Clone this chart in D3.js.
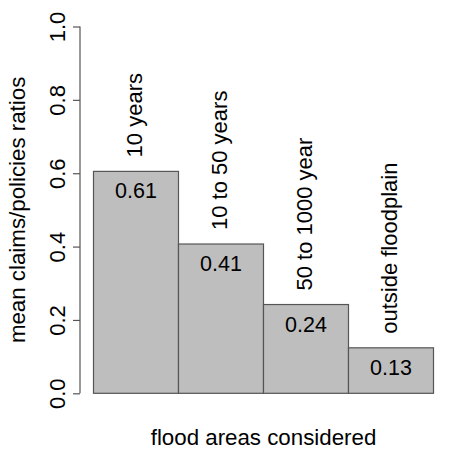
<!DOCTYPE html>
<html>
<head>
<meta charset="utf-8">
<script src="https://cdn.jsdelivr.net/npm/d3@7"></script>
<style>
  body { margin: 0; background: white; }
  svg { display: block; font-family: "Liberation Sans", Arial, sans-serif; }
</style>
</head>
<body>
<svg id="chart" width="474" height="474"></svg>
<script>
// data
var categories = ["10 years", "10 to 50 years", "50 to 1000 year", "outside floodplain"]
var ratios = [0.605, 0.407, 0.242, 0.124]
var ratioLabels = ["0.61", "0.41", "0.24", "0.13"]
var yTicks = [0, 0.2, 0.4, 0.6, 0.8, 1.0]

var svg = d3.select("#chart")

var x = d3.scaleBand()
  .domain(categories)
  .range([93.5, 433.5])
  .padding(0)

var y = d3.scaleLinear()
  .domain([0, 1])
  .range([393.3, 26.5])

// bars
svg.selectAll(".bar")
  .data(ratios)
  .enter().append("rect")
  .attr("class", "bar")
  .attr("x", function(d, i) { return x(categories[i]) })
  .attr("y", function(d) { return y(d) })
  .attr("width", x.bandwidth())
  .attr("height", function(d) { return y(0) - y(d) })
  .attr("fill", "#bebebe")
  .attr("stroke", "#555")
  .attr("stroke-width", 1.2)

// value inside the top of each bar
svg.selectAll(".val")
  .data(ratios)
  .enter().append("text")
  .attr("class", "val")
  .attr("x", function(d, i) { return x(categories[i]) + x.bandwidth() / 2 })
  .attr("y", function(d) { return y(d) + 27 })
  .attr("text-anchor", "middle")
  .attr("font-size", 21.5)
  .attr("fill", "#000")
  .text(function(d, i) { return ratioLabels[i] })

// rotated category names above the bars
svg.selectAll(".cat")
  .data(ratios)
  .enter().append("text")
  .attr("class", "cat")
  .attr("transform", function(d, i) {
    var cx = x(categories[i]) + x.bandwidth() / 2 + 6
    var cy = y(d) - 14
    return "translate(" + cx + "," + cy + ") rotate(-90)"
  })
  .attr("text-anchor", "start")
  .attr("font-size", 22)
  .attr("fill", "#000")
  .text(function(d, i) { return categories[i] })

// y axis, R style
var yAxis = svg.append("g")
  .attr("transform", "translate(80,0)")
  .call(d3.axisLeft(y).tickValues(yTicks).tickSize(7).tickFormat(d3.format(".1f")))

yAxis.select(".domain")
  .attr("d", "M0," + y(0) + "V" + y(1))
  .attr("stroke", "#555")
  .attr("stroke-width", 1.2)
yAxis.selectAll(".tick line").attr("stroke", "#555").attr("stroke-width", 1.2)
yAxis.selectAll(".tick text")
  .attr("font-size", 22)
  .attr("font-family", "Liberation Sans, Arial, sans-serif")
  .attr("fill", "#000")
  .attr("transform", "rotate(-90)")
  .attr("x", 0)
  .attr("y", -15)
  .attr("dy", 0)
  .attr("text-anchor", "middle")

// axis titles
svg.append("text")
  .attr("x", (x.range()[0] + x.range()[1]) / 2)
  .attr("y", 445)
  .attr("text-anchor", "middle")
  .attr("font-size", 22.3)
  .attr("fill", "#000")
  .text("flood areas considered")

svg.append("text")
  .attr("transform", "translate(25," + (y(0) + y(1)) / 2 + ") rotate(-90)")
  .attr("text-anchor", "middle")
  .attr("font-size", 22.3)
  .attr("fill", "#000")
  .text("mean claims/policies ratios")
</script>
</body>
</html>
